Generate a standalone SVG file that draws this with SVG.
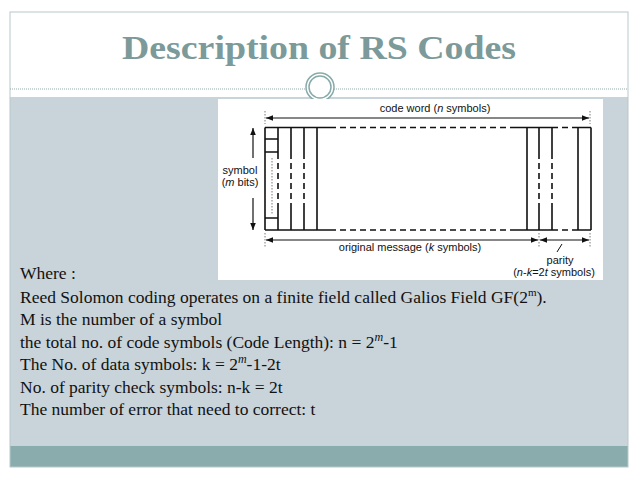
<svg xmlns="http://www.w3.org/2000/svg" width="638" height="478" viewBox="0 0 638 478">
<style>
.b{font-family:"Liberation Serif",serif;font-size:17.5px;fill:#111}
.d{font-family:"Liberation Sans",Arial,sans-serif;font-size:11px;fill:#111}
.ln{stroke:#111;stroke-width:1.6;fill:none}
.ds{stroke:#111;stroke-width:1.6;stroke-dasharray:6,4;fill:none}
.dt{stroke:#555;stroke-width:0.8;stroke-dasharray:1.5,1.5;fill:none}
</style>
<defs>
<marker id="a" viewBox="0 0 10 10" refX="10" refY="5" markerWidth="6" markerHeight="6" orient="auto-start-reverse"><path d="M0,1 L10,5 L0,9 z" fill="#111"/></marker>
</defs>
<rect width="638" height="478" fill="#fff"/>
<rect x="10" y="97" width="618" height="349" fill="#c8d3da"/>
<rect x="10" y="446" width="618" height="21" fill="#8aacac"/>
<rect x="10" y="12" width="618" height="455" fill="none" stroke="#b8c8ca" stroke-width="1"/>
<line x1="10" y1="89" x2="628" y2="89" stroke="#9aa" stroke-width="1" stroke-dasharray="1,1"/>
<g id="title"><text x="319" y="59" text-anchor="middle" font-family="Liberation Serif,serif" font-weight="bold" font-size="33" fill="#7b9a99" textLength="394" lengthAdjust="spacingAndGlyphs">Description of RS Codes</text></g>
<g id="ornament"><circle cx="320" cy="87" r="14" fill="#fff" stroke="#8aa" stroke-width="1.5"/><circle cx="320" cy="87" r="11" fill="#fff" stroke="#8aa" stroke-width="1.5"/></g>
<g id="figure">
<rect x="218" y="99" width="385" height="181" fill="#fff"/>
<g id="grid">
<path class="ln" d="M265,127.5 H330 M510,127.5 H552 M578,127.5 H591 M265,230 H330 M510,230 H552 M578,230 H591"/>
<path class="ds" d="M330,127.5 H510 M552,127.5 H578 M330,230 H510 M552,230 H578"/>
<path class="ln" d="M265,127.5 V230 M317,127.5 V230 M527,127.5 V230 M578,127.5 V230 M591,127.5 V230"/>
<path class="ln" d="M278,127.5 V153 M278,205 V230 M291,127.5 V153 M291,205 V230 M304,127.5 V153 M304,205 V230 M539,127.5 V153 M539,205 V230 M552,127.5 V153 M552,205 V230"/>
<path class="ds" d="M278,153 V205 M291,153 V205 M304,153 V205 M539,153 V205 M552,153 V205"/>
<path class="ln" d="M265,139 H278 M265,152 H278 M265,218 H278"/>
<path class="dt" d="M272,158 V215" stroke="#111"/>
</g>
<g id="connectors">
<path class="dt" d="M265,111 V124 M590,111 V124 M265,233 V247 M539,233 V247 M590,233 V247"/>
<line x1="266" y1="118" x2="589" y2="118" stroke="#111" stroke-width="1.2" marker-start="url(#a)" marker-end="url(#a)"/>
<line x1="266" y1="240" x2="538" y2="240" stroke="#111" stroke-width="1.2" marker-start="url(#a)" marker-end="url(#a)"/>
<line x1="540" y1="240" x2="589" y2="240" stroke="#111" stroke-width="1.2" marker-start="url(#a)" marker-end="url(#a)"/>
<line x1="253" y1="158" x2="253" y2="128" stroke="#111" stroke-width="1.2" marker-end="url(#a)"/>
<line x1="253" y1="198" x2="253" y2="230" stroke="#111" stroke-width="1.2" marker-end="url(#a)"/>
<line x1="562" y1="244" x2="557" y2="252" stroke="#111" stroke-width="1"/>
</g>
<text class="d" x="435" y="112" text-anchor="middle">code word (<tspan font-style="italic">n</tspan> symbols)</text>
<text class="d" x="240" y="174" text-anchor="middle">symbol</text>
<text class="d" x="240" y="186" text-anchor="middle">(<tspan font-style="italic">m</tspan> bits)</text>
<text class="d" x="410" y="251" text-anchor="middle">original message (<tspan font-style="italic">k</tspan> symbols)</text>
<text class="d" x="560" y="264" text-anchor="middle">parity</text>
<text class="d" x="554" y="276" text-anchor="middle">(<tspan font-style="italic">n</tspan>-<tspan font-style="italic">k</tspan>=2<tspan font-style="italic">t</tspan> symbols)</text>
</g>
<g id="body">
<text class="b" x="20" y="279">Where :</text>
<text class="b" x="20" y="303">Reed Solomon coding operates on a finite field called Galios Field GF(2<tspan font-size="11" dy="-7">m</tspan><tspan dy="7">).</tspan></text>
<text class="b" x="20" y="325">M is the number of a symbol</text>
<text class="b" x="20" y="348">the total no. of code symbols (Code Length): n = 2<tspan font-size="12" font-style="italic" dy="-7">m</tspan><tspan dy="7">-1</tspan></text>
<text class="b" x="20" y="370">The No. of data symbols: k = 2<tspan font-size="12" font-style="italic" dy="-7">m</tspan><tspan dy="7">-1-2t</tspan></text>
<text class="b" x="20" y="393">No. of parity check symbols: n-k = 2t</text>
<text class="b" x="20" y="415">The number of error that need to correct: t</text>
</g>
</svg>
